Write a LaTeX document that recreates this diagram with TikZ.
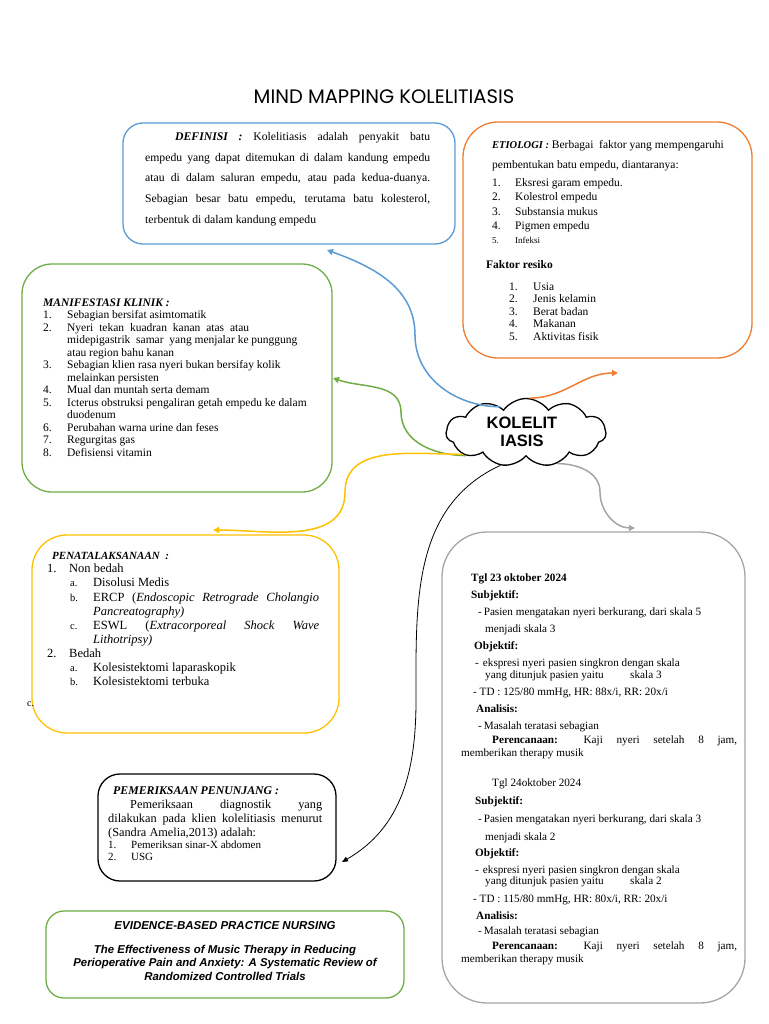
\documentclass[tikz,border=0pt]{standalone}
\usepackage{fontspec}
\setmainfont{Liberation Serif}
\newfontfamily\sansfont{Liberation Sans}
\newfontfamily\titlefont{Poppins}
\usetikzlibrary{shapes.symbols,arrows.meta}
\definecolor{mmblue}{RGB}{91,155,213}
\definecolor{mmorange}{RGB}{237,125,49}
\definecolor{mmgreen}{RGB}{112,173,71}
\definecolor{mmyellow}{RGB}{255,192,0}
\definecolor{mmgray}{RGB}{165,165,165}
\newcommand{\fs}[2]{\fontsize{#1}{#2}\selectfont}
\newcommand{\nm}[2]{\makebox[#1][l]{#2}}
\newcommand{\jl}[2]{\makebox[#1][s]{#2}}
\newcommand{\bi}[1]{\textbf{\textit{#1}}}
\tikzset{
  mapbox/.style={draw=#1, line width=1.3pt, inner sep=0pt},
  txt/.style={anchor=north west, inner sep=0pt, align=left},
  link/.style={draw=#1, line width=1.5pt, -{Triangle[length=6pt,width=6pt]}},
}
\begin{document}
\begin{tikzpicture}[x=1pt,y=1pt]
    \useasboundingbox (0,0) rectangle (768,-1024);
    \node[font=\titlefont\fs{19.5}{22}] (judul) at (384,-97) {MIND MAPPING KOLELITIASIS};

    \node[mapbox=mmblue, rounded corners=20pt, minimum width=332pt, minimum height=121pt] (definisi) at (289,-183.5) {};
    \node[mapbox=mmorange, rounded corners=35pt, minimum width=289pt, minimum height=236pt] (etiologi) at (607.5,-240) {};
    \node[mapbox=mmgreen, rounded corners=30pt, minimum width=310pt, minimum height=228pt] (manifestasi) at (177,-378) {};
    \node[mapbox=mmyellow, rounded corners=35pt, minimum width=307pt, minimum height=198pt] (penatalaksanaan) at (185.5,-634) {};
    \node[mapbox=mmgray, rounded corners=45pt, minimum width=303pt, minimum height=471pt] (evaluasi) at (593.5,-767.5) {};
    \node[mapbox=black, rounded corners=22pt, minimum width=238pt, minimum height=107pt] (pemeriksaan) at (217,-827.5) {};
    \node[mapbox=mmgreen, rounded corners=18pt, minimum width=358pt, minimum height=87pt] (ebp) at (225,-954.5) {};

    \node[txt, font=\fs{11.7}{20.4}] (definisiteks) at (145,-132.5) {\hspace*{30pt}\jl{255pt}{\bi{DEFINISI :} Kolelitiasis adalah penyakit batu}\\ \jl{285pt}{empedu yang dapat ditemukan di dalam kandung empedu}\\ \jl{285pt}{atau di dalam saluran empedu, atau pada kedua-duanya.}\\ \jl{285pt}{Sebagian besar batu empedu, terutama batu kolesterol,}\\[1.5pt] terbentuk di dalam kandung empedu};

    \node[txt, font=\fs{11.5}{20}] (etiologiteks) at (492,-140.5) {{\fs{10.5}{20}\bi{ETIOLOGI :}} Berbagai\ \ faktor yang mempengaruhi\\ pembentukan batu empedu, diantaranya:};
    \node[txt, font=\fs{11.5}{14.3}] (etiologilist) at (492,-178.5) {\nm{23pt}{1.}Eksresi garam empedu.\\ \nm{23pt}{2.}Kolestrol empedu\\ \nm{23pt}{3.}Substansia mukus\\ \nm{23pt}{4.}Pigmen empedu\\ \nm{23pt}{\fs{9}{14.3}5.}{\fs{9}{14.3}Infeksi}};
    \node[txt, font=\fs{11.5}{14}\bfseries] (faktor) at (486,-260.5) {Faktor resiko};
    \node[txt, font=\fs{11.5}{12.5}] (faktorlist) at (509,-282.5) {\nm{24pt}{1.}Usia\\ \nm{24pt}{2.}Jenis kelamin\\ \nm{24pt}{3.}Berat badan\\ \nm{24pt}{4.}Makanan\\ \nm{24pt}{5.}Aktivitas fisik};

    \node[txt, font=\fs{11.5}{12.5}] (manifestasiteks) at (43,-298.5) {\bi{MANIFESTASI KLINIK :}\\ \nm{24pt}{1.}Sebagian bersifat asimtomatik\\ \nm{24pt}{2.}\jl{182pt}{Nyeri tekan kuadran kanan atas atau}\\ \nm{24pt}{}midepigastrik\ \ samar\ \ yang menjalar ke punggung\\ \nm{24pt}{}atau region bahu kanan\\ \nm{24pt}{3.}Sebagian klien rasa nyeri bukan bersifay kolik\\ \nm{24pt}{}melainkan persisten\\ \nm{24pt}{4.}Mual dan muntah serta demam\\ \nm{24pt}{5.}Icterus obstruksi pengaliran getah empedu ke dalam\\ \nm{24pt}{}duodenum\\ \nm{24pt}{6.}Perubahan warna urine dan feses\\ \nm{24pt}{7.}Regurgitas gas\\ \nm{24pt}{8.}Defisiensi vitamin};

    \node[txt, font=\fs{11}{14}] (penatalaksanaanjudul) at (52,-551.7) {\bi{PENATALAKSANAAN\ \ :}};
    \node[txt, font=\fs{12.5}{14.1}] (penatalaksanaanlist) at (47,-564) {\nm{22pt}{1.}Non bedah\\ \hspace*{23pt}\nm{23pt}{\fs{10.5}{14.1}a.}Disolusi Medis\\ \hspace*{23pt}\nm{23pt}{\fs{10.5}{14.1}b.}\jl{226pt}{ERCP (\textit{Endoscopic Retrograde Cholangio}}\\ \hspace*{46pt}\textit{Pancreatography)}\\ \hspace*{23pt}\nm{23pt}{\fs{10.5}{14.1}c.}\jl{226pt}{ESWL (\textit{Extracorporeal Shock Wave}}\\ \hspace*{46pt}\textit{Lithotripsy)}\\ \nm{22pt}{2.}Bedah\\ \hspace*{23pt}\nm{23pt}{\fs{10.5}{14.1}a.}Kolesistektomi laparaskopik\\ \hspace*{23pt}\nm{23pt}{\fs{10.5}{14.1}b.}Kolesistektomi terbuka};
    \node[anchor=base west, inner sep=0pt, font=\fs{10}{12}] (ekstra) at (27,-706.5) {c.};

    \node[txt, font=\fs{11.2}{17}] (hari1) at (461,-573.6) {\hspace*{10pt}\textbf{Tgl 23 oktober 2024}\\ \hspace*{10pt}\textbf{Subjektif:}\\ \hspace*{17pt}-\,Pasien mengatakan nyeri berkurang, dari skala 5\\ \hspace*{24pt}menjadi skala 3\\ \hspace*{13pt}\textbf{Objektif:}\\ \hspace*{14pt}-\hspace{4pt}ekspresi nyeri pasien singkron dengan skala\\[-5pt] \hspace*{24pt}\nm{145pt}{yang ditunjuk pasien yaitu}skala 3\\ \hspace*{12pt}- TD : 125/80 mmHg, HR: 88x/i, RR: 20x/i\\ \hspace*{15pt}\textbf{Analisis:}\\ \hspace*{17pt}-\,Masalah teratasi sebagian\\[-3pt] \hspace*{31pt}\jl{245pt}{\textbf{Perencanaan:} Kaji nyeri setelah 8 jam,}\\[-4pt] memberikan therapy musik};
    \node[txt, font=\fs{11.2}{17.5}] (hari2) at (461,-778.6) {\hspace*{31pt}Tgl 24oktober 2024\\ \hspace*{14pt}\textbf{Subjektif:}\\[1pt] \hspace*{17pt}-\,Pasien mengatakan nyeri berkurang, dari skala 3\\ \hspace*{24pt}menjadi skala 2\\[-1.5pt] \hspace*{14pt}\textbf{Objektif:}\\ \hspace*{14pt}-\hspace{4pt}ekspresi nyeri pasien singkron dengan skala\\[-6.5pt] \hspace*{24pt}\nm{145pt}{yang ditunjuk pasien yaitu}skala 2\\ \hspace*{12pt}- TD : 115/80 mmHg, HR: 80x/i, RR: 20x/i\\ \hspace*{15pt}\textbf{Analisis:}\\[-2.5pt] \hspace*{17pt}-\,Masalah teratasi sebagian\\[-2.5pt] \hspace*{31pt}\jl{245pt}{\textbf{Perencanaan:} Kaji nyeri setelah 8 jam,}\\[-4.5pt] memberikan therapy musik};

    \node[txt, font=\fs{12.3}{14}] (pemeriksaanteks) at (108,-786.4) {\hspace*{5pt}{\fs{11.8}{14}\bi{PEMERIKSAAN PENUNJANG :}}\\ \hspace*{22pt}\jl{192pt}{Pemeriksaan diagnostik yang}\\ \jl{214pt}{dilakukan pada klien kolelitiasis menurut}\\ (Sandra Amelia,2013) adalah:\\[-2pt] {\fs{11}{14}\nm{23pt}{1.}Pemeriksan sinar-X abdomen}\\[-2pt] {\fs{11}{14}\nm{23pt}{2.}USG}};

    \node[inner sep=0pt, font=\sansfont\bfseries\itshape\fs{11.5}{14}] (ebpjudul) at (225,-926) {EVIDENCE-BASED PRACTICE NURSING};
    \node[anchor=north, inner sep=0pt, align=center, font=\sansfont\bfseries\itshape\fs{11.4}{13.5}] (ebpteks) at (225,-945) {The Effectiveness of Music Therapy in Reducing\\ Perioperative Pain and Anxiety: A Systematic Review of\\ Randomized Controlled Trials};

    \node[cloud, draw, fill=white, line width=1.3pt, cloud puffs=11, cloud puff arc=110, cloud ignores aspect, minimum width=160pt, minimum height=68pt, inner sep=0pt] (kolelitiasis) at (526,-432.5) {};
    \node[align=center, inner sep=0pt, font=\sansfont\bfseries\fs{16.5}{18.5}] (kolelitiasisteks) at (522,-432) {KOLELIT\\IASIS};

    \coordinate (ujungdef) at (327,-250);
    \coordinate (ujungeti) at (618,-373);
    \coordinate (ujungman) at (333,-378);
    \coordinate (ujungpen) at (213,-530);
    \coordinate (ujungeva) at (635,-528);
    \coordinate (ujungpem) at (342,-862);

    \draw[link=mmblue] (kolelitiasis.135) to[out=180,in=-90] (415,-335) to[out=90,in=-20] (ujungdef);
    \draw[link=mmorange] (kolelitiasis.84) to[out=0,in=180] (ujungeti);
    \draw[link=mmgreen] (kolelitiasis.201) to[out=180,in=-90] (401,-412) to[out=90,in=-20] (ujungman);
    \draw[link=mmyellow] (kolelitiasis.199) to[out=180,in=90] (345,-492) to[out=-90,in=0] (ujungpen);
    \draw[link=mmgray] (kolelitiasis.315) to[out=0,in=90] (600,-492) to[out=-90,in=180] (ujungeva);
    \draw[black, line width=0.8pt, -{Triangle[length=6pt,width=5pt]}] (kolelitiasis.232) to[out=205,in=90] (416,-700) to[out=-90,in=30] (ujungpem);
\end{tikzpicture}
\end{document}
